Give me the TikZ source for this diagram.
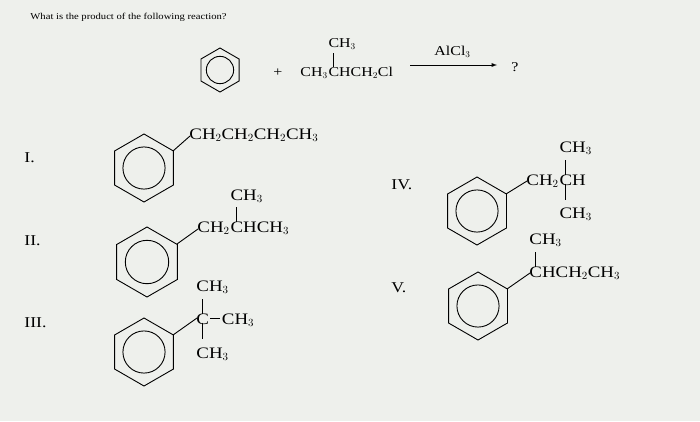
\documentclass[tikz,border=0pt]{standalone}
\usepackage{fontspec}
\setmainfont{Liberation Serif}
\newfontfamily\chemf[FakeStretch=1.18]{Liberation Serif}
\begin{document}
\begin{tikzpicture}[x=1pt,y=-1pt,line width=0.9pt,
 t/.style={inner sep=0pt,anchor=base west,font=\chemf\fontsize{16}{16}\selectfont},
 tr/.style={inner sep=0pt,anchor=base west,font=\chemf\fontsize{13.5}{13.5}\selectfont},
 lab/.style={inner sep=0pt,anchor=base west,font=\chemf\fontsize{15}{15}\selectfont}]
\fill[color={rgb,255:red,238;green,240;blue,236}] (0,0) rectangle (700,421);
\useasboundingbox (0,0) rectangle (700,421);
\newcommand{\benz}[3]{% x y r
 \draw (#1,#2) +(30:#3) -- +(90:#3) -- +(150:#3) -- +(210:#3) -- +(270:#3) -- +(330:#3) -- cycle;
 \draw (#1,#2) circle ({0.62*#3});}
\newcommand{\upbond}[1]{\draw ([xshift=6.3pt,yshift=-1pt]#1.north west) -- ([xshift=6.3pt,yshift=14pt]#1.north west);}
\newcommand{\downbond}[1]{\draw ([xshift=6.3pt,yshift=2pt]#1.south west) -- ([xshift=6.3pt,yshift=-14pt]#1.south west);}
\node[inner sep=0pt,anchor=base west,font=\chemf\fontsize{9}{9}\selectfont] (q) at (30,19) {What is the product of the following reaction?};
% reaction
\benz{220}{70}{22}
\node[tr] (plus) at (273,76) {+};
\node[tr] (r1) at (300,76) {CH$_3$};
\node[tr] (r1c) at (r1.base east) {CHCH$_2$Cl};
\draw ([xshift=5.3pt,yshift=-1pt]r1c.north west) -- ([xshift=5.3pt,yshift=13pt]r1c.north west);
\node[tr] (r2) at ([yshift=29pt]r1c.base west) {CH$_3$};
\node[tr] (al) at (434,55) {AlCl$_3$};
\coordinate (a1) at (410,65); \coordinate (a2) at (497,65);
\draw[-latex] (a1) -- (a2);
\node[tr] (qm) at (511,71) {?};
% I
\node[lab] (l1) at (24,162) {I.};
\benz{144}{168}{34}
\draw (173,151) -- (190,136);
\node[t] (s1) at (189,139) {CH$_2$CH$_2$CH$_2$CH$_3$};
% II
\node[lab] (l2) at (24,245) {II.};
\benz{147}{262}{35}
\draw (177,244) -- (198,229);
\node[t] (s2) at (197,232) {CH$_2$};
\node[t] (s2c) at (s2.base east) {CHCH$_3$};
\upbond{s2c}
\node[t] (s2b) at ([yshift=32pt]s2c.base west) {CH$_3$};
% III
\node[lab] (l3) at (24,327) {III.};
\benz{144}{352}{34}
\draw (173,335) -- (197,318);
\node[t] (s3b) at (196,324) {C};
\draw ([xshift=1pt]s3b.east |- 318,318) -- ([xshift=11pt]s3b.east |- 318,318) coordinate (e3);
\node[t] (s3c) at ([xshift=1pt]e3 |- s3b.base) {CH$_3$};
\upbond{s3b}
\downbond{s3b}
\node[t] (s3a) at ([yshift=33pt]s3b.base west) {CH$_3$};
\node[t] (s3d) at ([yshift=-34pt]s3b.base west) {CH$_3$};
% IV
\node[lab] (l4) at (391,189) {IV.};
\benz{477}{211}{34}
\draw (506,194) -- (527,181);
\node[t] (s4) at (526,185) {CH$_2$};
\node[t] (s4c) at (s4.base east) {CH};
\upbond{s4c}
\downbond{s4c}
\node[t] (s4a) at ([yshift=33pt]s4c.base west) {CH$_3$};
\node[t] (s4b) at ([yshift=-33pt]s4c.base west) {CH$_3$};
% V
\node[lab] (l5) at (391,292) {V.};
\benz{478}{306}{34}
\draw (507,289) -- (530,273);
\node[t] (s5) at (529,277) {CHCH$_2$CH$_3$};
\upbond{s5}
\node[t] (s5a) at ([yshift=33pt]s5.base west) {CH$_3$};
\end{tikzpicture}
\end{document}
